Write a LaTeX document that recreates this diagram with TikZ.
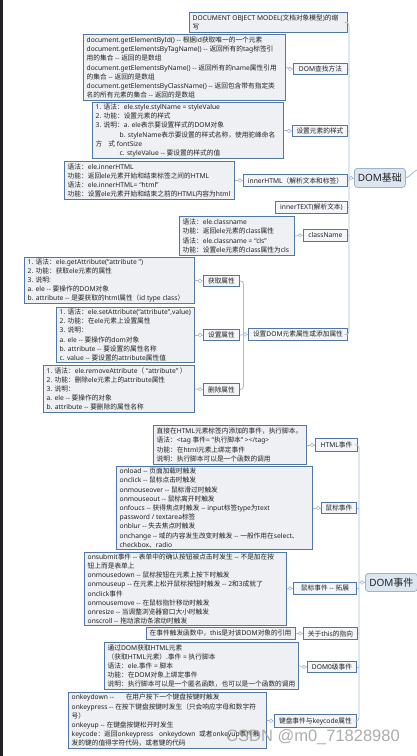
\documentclass[tikz,border=0pt]{standalone}
\usepackage{fontspec}
\setmainfont{Noto Sans}
\newfontfamily\cjkf{Noto Sans CJK SC}
\newfontfamily\latf{Noto Sans}
\newfontfamily\wmfont{Liberation Sans}
\XeTeXinterchartokenstate=1
\newXeTeXintercharclass\CJKcls
\makeatletter
\newcommand\setcjkrange[2]{\count@=#1\relax
  \loop\XeTeXcharclass\count@=\CJKcls\relax
  \ifnum\count@<#2\relax\advance\count@ by 1\relax\repeat}
\makeatother
\setcjkrange{"3000}{"303F}
\setcjkrange{"4E00}{"9FFF}
\setcjkrange{"FF00}{"FFEF}
\XeTeXinterchartoks 0 \CJKcls = {\cjkf}
\XeTeXinterchartoks 4095 \CJKcls = {\cjkf}
\XeTeXinterchartoks \CJKcls 0 = {\latf}
\XeTeXinterchartoks \CJKcls 4095 = {\latf}
\usetikzlibrary{calc}
\definecolor{bxline}{HTML}{5177A6}
\definecolor{bxfill}{HTML}{EEF0F3}
\definecolor{lbfill}{HTML}{F3F5F8}
\definecolor{cnline}{HTML}{A9BBD0}
\definecolor{rtfill}{HTML}{DCE6F1}
\definecolor{rtline}{HTML}{9CB2CE}
\definecolor{txt}{HTML}{222222}
\definecolor{strip}{HTML}{1F2127}
\newcommand\dd{-\kern0pt-}
\tikzset{
  x=1pt, y=-1pt,
  cbox/.style={draw=bxline, fill=bxfill, line width=0.9pt, anchor=north west, inner sep=0pt},
  ctext/.style={anchor=west, inner sep=0pt, align=left, text=txt,
    font=\fontsize{6.7}{9.2}\selectfont},
  lbox/.style={draw=bxline, fill=lbfill, line width=0.9pt, anchor=north west,
    inner sep=0pt, text=txt, font=\fontsize{6.7}{8}\selectfont},
  rbox/.style={draw=rtline, fill=rtfill, line width=0.8pt, rounded corners=3pt,
    anchor=north west, inner sep=0pt, text=txt, font=\fontsize{10}{12}\selectfont},
  conn/.style={draw=cnline, line width=0.8pt},
  dot/.style={circle, draw=cnline, fill=white, inner sep=0pt, minimum size=3.6pt, line width=0.6pt},
  wm/.style={text=gray!75, opacity=0.85, font=\wmfont\fontsize{16.5}{18}\selectfont, inner sep=0pt}
}
% content box: name, x, y, w, h, text
\newcommand\cbx[6]{%
  \node[cbox, minimum width=#4pt, minimum height=#5pt] (#1) at (#2,#3) {};
  \node[ctext] (#1T) at ($(#1.west)+(3.5,0)$) {#6};}
\begin{document}
\begin{tikzpicture}
\useasboundingbox (0,0) rectangle (417,756);
\fill[white] (0,0) rectangle (417,756);
\fill[strip] (0,0) rectangle (2.5,756);

% ---------- DOM基础 ----------
\cbx{doc}{189}{12}{158}{20}
  {DOCUMENT OBJECT MODEL(文档对象模型)的缩\\写}
\cbx{getel}{83}{34}{202}{66}
  {document.getElementById() \dd{} 根据id获取唯一的一个元素\\
   document.getElementsByTagName() \dd{} 返回所有的tag标签引\\
   用的集合 \dd{} 返回的是数组\\
   document.getElementsByName() \dd{} 返回所有的name属性引用\\
   的集合 \dd{} 返回的是数组\\
   document.getElementsByClassName() \dd{} 返回包含带有指定类\\
   名的所有元素的集合 \dd{} 返回的是数组}
\cbx{style}{92}{102}{191}{56}
  {1. 语法：ele.style.stylName = styleValue\\
   2. 功能：设置元素的样式\\
   3. 说明：a. ele表示要设置样式的DOM对象\\
   \hspace*{24pt}b. styleName表示要设置的样式名称，使用驼峰命名\\
   方\hspace{6pt}式 fontSize\\
   \hspace*{24pt}c. styleValue \dd{} 要设置的样式的值}
\cbx{ihtml}{64}{161}{170}{38}
  {语法：ele.innerHTML\\
   功能：返回ele元素开始和结束标签之间的HTML\\
   语法：ele.innerHTML= “html”\\
   功能：设置ele元素开始和结束之前的HTML内容为html}
\cbx{cname}{179}{216}{115}{39}
  {语法：ele.classname\\
   功能：返回ele元素的class属性\\
   语法：ele.classname = “cls”\\
   功能：设置ele元素的class属性为cls}
\cbx{getattr}{24}{257}{170}{46}
  {1. 语法：ele.getAttribute(“attribute ”)\\
   2. 功能：获取ele元素的属性\\
   3. 说明:\\
   a. ele \dd{} 要操作的DOM对象\\
   b. attribute \dd{} 是要获取的html属性（id type class）}
\cbx{setattr}{56}{307}{138}{55}
  {1. 语法：ele.setAttribute(“attribute”,value)\\
   2. 功能：在ele元素上设置属性\\
   3. 说明：\\
   a. ele \dd{} 要操作的dom对象\\
   b. attribute \dd{} 要设置的属性名称\\
   c. value \dd{} 要设置的attribute属性值}
\cbx{remattr}{43}{365}{151}{47}
  {1. 语法：ele.removeAttribute（ “attribute” ）\\
   2. 功能：删除ele元素上的attribute属性\\
   3. 说明：\\
   a. ele \dd{} 要操作的对象\\
   b. attribute \dd{} 要删除的属性名称}

\node[lbox, minimum width=54pt, minimum height=11pt] (lfind) at (293,63) {DOM查找方法};
\node[lbox, minimum width=55pt, minimum height=11pt] (lstyle) at (292,125) {设置元素的样式};
\node[lbox, minimum width=104pt, minimum height=12pt] (lihtml) at (243,174) {innerHTML（解析文本和标签）};
\node[lbox, minimum width=72pt, minimum height=12pt] (litext) at (275,201) {innerTEXT(解析文本)};
\node[lbox, minimum width=44pt, minimum height=12pt] (lcname) at (303,229) {className};
\node[lbox, minimum width=36pt, minimum height=11pt] (lget) at (203,275) {获取属性};
\node[lbox, minimum width=36pt, minimum height=11pt] (lset) at (203,329) {设置属性};
\node[lbox, minimum width=36pt, minimum height=12pt] (ldel) at (203,383) {删除属性};
\node[lbox, minimum width=99pt, minimum height=12pt] (lsetdom) at (248,328) {设置DOM元素属性或添加属性};
\node[rbox, minimum width=51pt, minimum height=19pt] (base) at (354,168) {DOM基础};

% ---------- DOM事件 ----------
\cbx{htmlev}{153}{425}{153}{39}
  {直接在HTML元素标签内添加的事件，执行脚本。\\
   语法：<tag 事件= “执行脚本” ></tag>\\
   功能：在html元素上绑定事件\\
   说明：执行脚本可以是一个函数的调用}
\cbx{mouse}{116}{466}{196}{83}
  {onload \dd{} 页面加载时触发\\
   onclick \dd{} 鼠标点击时触发\\
   onmouseover \dd{} 鼠标滑过时触发\\
   onmouseout \dd{} 鼠标离开时触发\\
   onfoucs \dd{} 获得焦点时触发 \dd{} input标签type为text\\
   password / textarea标签\\
   onblur \dd{} 失去焦点时触发\\
   onchange \dd{} 域的内容发生改变时触发 \dd{} 一般作用在select、\\
   checkbox、radio}
\cbx{mousex}{84}{552}{202}{73}
  {onsubmit事件 \dd{} 表单中的确认按钮被点击时发生 \dd{} 不是加在按\\
   钮上而是表单上\\
   onmousedown \dd{} 鼠标按钮在元素上按下时触发\\
   onmouseup \dd{} 在元素上松开鼠标按钮时触发 \dd{} 2和3成就了\\
   onclick事件\\
   onmousemove \dd{} 在鼠标指针移动时触发\\
   onresize \dd{} 当调整浏览器窗口大小时触发\\
   onscroll \dd{} 拖动滚动条滚动时触发}
\cbx{thisc}{146}{627}{149}{12}
  {在事件触发函数中，this是对该DOM对象的引用}
\cbx{dom0}{104}{642}{194}{47}
  {通过DOM获取HTML元素\\
   （获取HTML元素）.事件 = 执行脚本\\
   语法：ele.事件 = 脚本\\
   功能：在DOM对象上绑定事件\\
   说明：执行脚本可以是一个匿名函数，也可以是一个函数的调用}
\cbx{key}{68}{692}{198}{56}
  {onkeydown \dd{}\hspace{10pt} 在用户按下一个键盘按键时触发\\
   onkeypress \dd{} 在按下键盘按键时发生（只会响应字母和数字符\\
   号）\\
   onkeyup \dd{} 在键盘按键松开时发生\\
   keycode：返回onkeypress\hspace{4pt} onkeydown\hspace{2pt} 或者onkeyup事件触\\
   发的键的值得字符代码，或者键的代码}

\node[lbox, minimum width=42pt, minimum height=13pt] (lhtml) at (315,438) {HTML事件};
\node[lbox, minimum width=35pt, minimum height=11pt] (lmouse) at (321,502) {鼠标事件};
\node[lbox, minimum width=63pt, minimum height=12pt] (lmousex) at (293,582) {鼠标事件 \dd{} 拓展};
\node[lbox, minimum width=54pt, minimum height=12pt] (lthis) at (303,627) {关于this的指向};
\node[lbox, minimum width=49pt, minimum height=11pt] (ldom0) at (307,661) {DOM0级事件};
\node[lbox, minimum width=82pt, minimum height=13pt] (lkey) at (274,714) {键盘事件与keycode属性};
\node[rbox, minimum width=52pt, minimum height=18pt] (events) at (365,573) {DOM事件};

% ---------- connectors: content -> label ----------
\foreach \c/\l in {getel/lfind, style/lstyle, ihtml/lihtml, cname/lcname,
                   getattr/lget, setattr/lset, remattr/ldel,
                   htmlev/lhtml, mouse/lmouse, mousex/lmousex, thisc/lthis,
                   dom0/ldom0, key/lkey}{
  \draw[conn] (\c.east) -- (\l.west);
  \node[dot] (d\l) at ($(\l.west)+(-3,0)$) {};
}

% ---------- DOM基础 trunk ----------
\coordinate (tA) at (349,0);
\draw[conn, rounded corners=3pt] (doc.east) -- (doc.east -| tA) -- (lsetdom.east -| tA) -- (lsetdom.east);
\foreach \l in {lfind, lstyle, lihtml, litext, lcname}{
  \draw[conn] (\l.east) -- (\l.east -| tA);
}
\draw[conn] (base.west) -- (base.west -| tA);
\node[dot] (dbase) at ($(base.west)+(-3,0)$) {};
\coordinate (outA) at (417,170);
\draw[conn] (base.east) .. controls (410,177) and (413,171) .. (outA);

% ---------- attribute trunk ----------
\coordinate (tB) at (243.5,0);
\draw[conn, rounded corners=3pt] (lget.east) -- (lget.east -| tB) -- (ldel.east -| tB) -- (ldel.east);
\draw[conn] (lset.east) -- (lsetdom.west);
\node[dot] (dsetdom) at ($(lsetdom.west)+(-3,0)$) {};

% ---------- DOM事件 trunk ----------
\coordinate (tC) at (359,0);
\draw[conn, rounded corners=3pt] (lhtml.east) -- (lhtml.east -| tC) -- (lkey.east -| tC) -- (lkey.east);
\foreach \l in {lmouse, lmousex, lthis, ldom0}{
  \draw[conn] (\l.east) -- (\l.east -| tC);
}
\draw[conn] (events.west) -- (events.west -| tC);
\node[dot] (devents) at ($(events.west)+(-3,0)$) {};

% ---------- watermark ----------
\node[wm, anchor=west] (wmark) at (226,737) {CSDN @m0\_71828980};
\end{tikzpicture}
\end{document}
